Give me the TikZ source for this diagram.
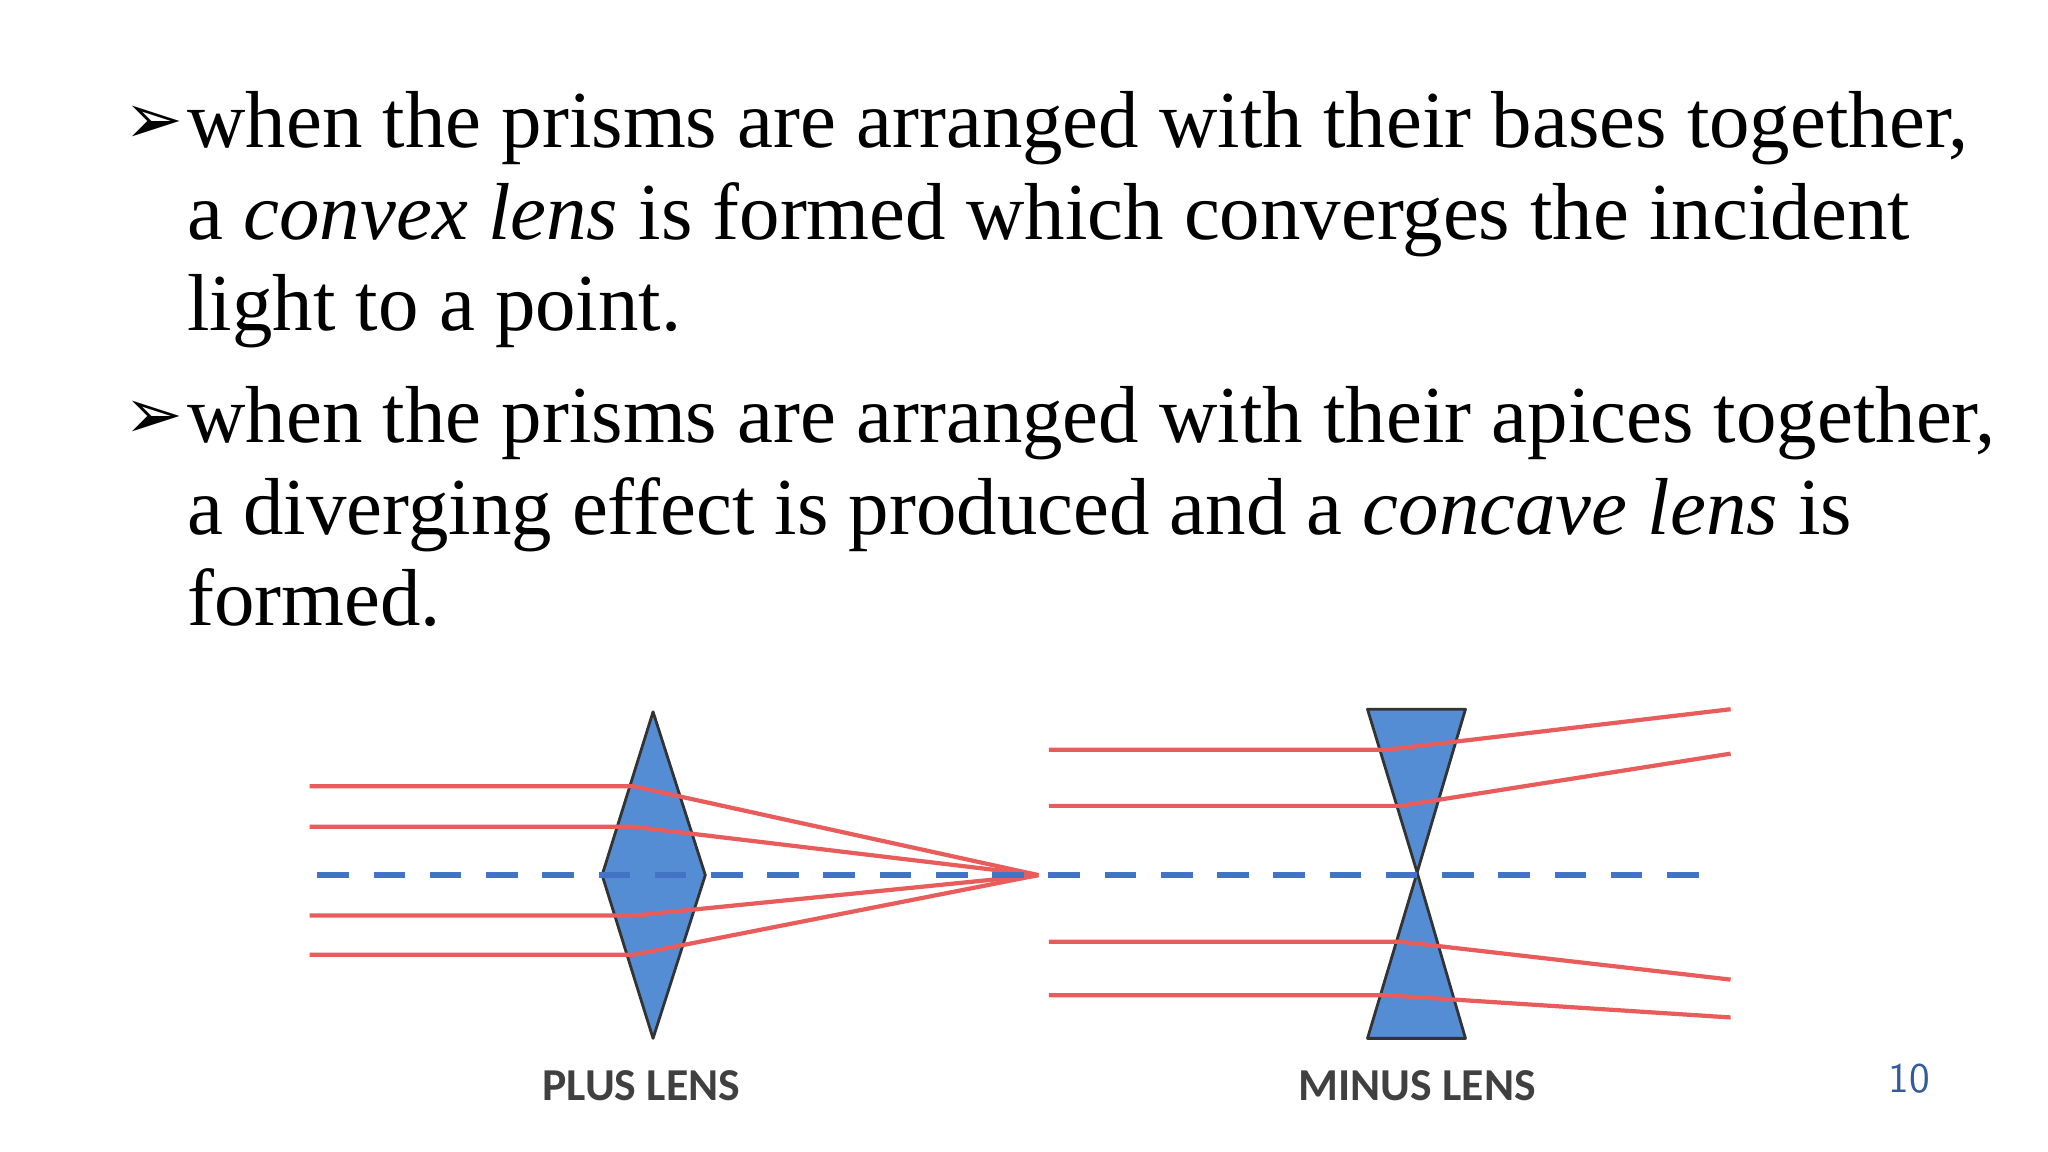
\documentclass[tikz,border=0pt]{standalone}
\usepackage{fontspec}
\setmainfont{Liberation Serif}
\newfontfamily\dejavu{DejaVu Sans}
\newfontfamily\carl{Carlito}
\definecolor{lensblue}{RGB}{84,141,212}
\definecolor{axisblue}{RGB}{68,114,196}
\definecolor{rayred}{RGB}{232,92,92}
\definecolor{labgray}{RGB}{64,64,64}
\definecolor{numblue}{RGB}{50,90,160}
\tikzset{
 txt/.style={anchor=base west,inner sep=0pt,font=\fontsize{23}{28}\selectfont},
 bul/.style={anchor=base west,inner sep=0pt,font=\dejavu\fontsize{20}{24}\selectfont},
 ray/.style={rayred,line width=1.2pt},
 lens/.style={fill=lensblue,draw=black!80,line width=0.8pt,line join=round},
 ax/.style={axisblue,dashed,dash pattern=on 9pt off 7pt,line width=1.5pt},
 lab/.style={font=\carl\bfseries\fontsize{13}{15}\selectfont,text=labgray,inner sep=0pt}
}
\begin{document}
\begin{tikzpicture}[x=0.013061cm,y=-0.013061cm]
\useasboundingbox (0,0) rectangle (1568,882);
% text
\node[bul] (b1) at (95,110) {➢};
\node[txt] (l1) at (143,113) {when the prisms are arranged with their bases together,};
\node[txt] (l2) at (143,183) {a \textit{convex lens} is formed which converges the incident};
\node[txt] (l3) at (143,253) {light to a point.};
\node[bul] (b2) at (95,336) {➢};
\node[txt] (l4) at (143,339) {when the prisms are arranged with their apices together,};
\node[txt] (l5) at (143,409) {a diverging effect is produced and a \textit{concave lens} is};
\node[txt] (l6) at (143,479) {formed.};
% plus lens
\coordinate (F) at (795,670);
\draw[lens] (500,545) -- (540,670) -- (500,795) -- (461,670) -- cycle;
\foreach \y in {602,633,701,731}{
  \draw[ray] (237,\y) -- (485,\y) -- (F);
}
% minus lens
\draw[lens] (1047,543) -- (1122,543) -- (1085,668) -- cycle;
\draw[lens] (1047,795) -- (1122,795) -- (1085,668) -- cycle;
\draw[ray] (803,574) -- (1062,574) -- (1325,543);
\draw[ray] (803,617) -- (1072,617) -- (1325,577);
\draw[ray] (803,721) -- (1072,721) -- (1325,750);
\draw[ray] (803,762) -- (1062,762) -- (1325,779);
% axis
\draw[ax] (243,670) -- (1315,670);
% labels
\node[lab] (pl) at (491,831) {PLUS LENS};
\node[lab] (ml) at (1085,831) {MINUS LENS};
\node[font=\fontsize{12}{14}\selectfont\sffamily,text=numblue,inner sep=0pt] (pg) at (1462,826) {10};
\end{tikzpicture}
\end{document}
